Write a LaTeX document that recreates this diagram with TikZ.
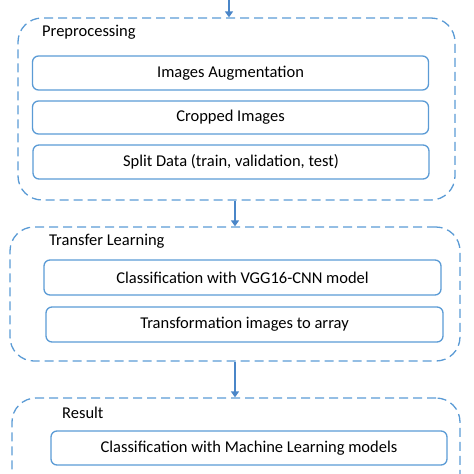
\documentclass[tikz,border=0pt]{standalone}
\usepackage{fontspec}
\setmainfont{Carlito}
\usetikzlibrary{arrows.meta}
\definecolor{boxblue}{RGB}{91,155,213}
\definecolor{arrowblue}{RGB}{74,134,200}
\tikzset{
  stage/.style={draw=boxblue, line width=1.3pt, dash pattern=on 9pt off 5pt, rounded corners=24pt, minimum width=#1},
  step box/.style={draw=boxblue, line width=1.3pt, rounded corners=6pt, minimum width=396pt, minimum height=34pt, font=\fontsize{16.5}{20}\selectfont},
  stage label/.style={anchor=west, font=\fontsize{16.5}{20}\selectfont, inner sep=0pt},
  flow/.style={draw=arrowblue, line width=1.8pt, -{Triangle[length=6pt,width=8pt]}}
}
\begin{document}
\begin{tikzpicture}[x=1pt,y=-1pt]
  \useasboundingbox (0,0) rectangle (474,474);
  \clip (0,0) rectangle (474,474);
  % Preprocessing
  \node[stage=437pt, minimum height=182pt] (pre) at (236.5,109) {};
  \node[stage label] (prelbl) at (42,32) {Preprocessing};
  \node[step box] (aug) at (230.5,73) {Images Augmentation};
  \node[step box, minimum height=33pt] (crop) at (230.5,117.5) {Cropped Images};
  \node[step box] (split) at (231,162) {Split Data (train, validation, test)};
  % Transfer Learning
  \node[stage=450pt, minimum height=134pt] (tl) at (235,294) {};
  \node[stage label] (tllbl) at (49,241) {Transfer Learning};
  \node[step box, minimum height=35pt, minimum width=397pt] (vgg) at (242.5,277.5) {Classification with VGG16-CNN model};
  \node[step box, minimum height=35pt, minimum width=397pt] (arr) at (244.5,324.5) {Transformation images to array};
  % Result
  \node[stage=448pt, minimum height=124pt] (res) at (236,460) {};
  \node[stage label] (reslbl) at (62,413) {Result};
  \node[step box] (ml) at (249,448) {Classification with Machine Learning models};
  % arrows
  \coordinate (start) at (229,-6);
  \draw[flow] (start) -- (start |- pre.north);
  \draw[flow] (pre.south -| tl.north) -- (tl.north);
  \draw[flow] (tl.south) -- (tl.south |- res.north);
\end{tikzpicture}
\end{document}
